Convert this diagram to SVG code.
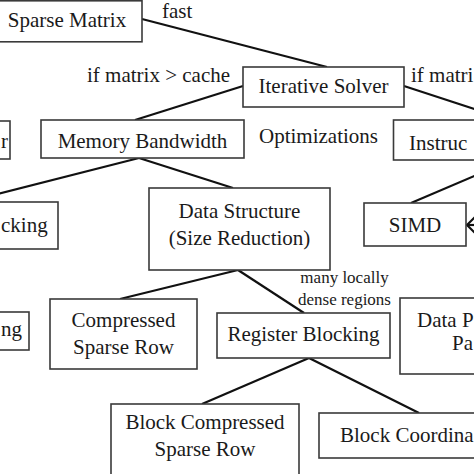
<svg xmlns="http://www.w3.org/2000/svg" width="474" height="474" viewBox="0 0 474 474">
<style>
.box{fill:#fff;stroke:#3a3a3a;stroke-width:1.6}
.t{font-family:"Liberation Serif","Times New Roman",serif;font-size:21px;fill:#1a1a1a}
.s{font-family:"Liberation Serif","Times New Roman",serif;font-size:17px;fill:#1a1a1a}
.m{text-anchor:middle}
.e{text-anchor:end}
.ln{stroke:#111;stroke-width:2.2;fill:none}
</style>
<rect width="474" height="474" fill="#fff"/>
<g id="connectors">
<line class="ln" x1="142" y1="19" x2="327" y2="67"/>
<line class="ln" x1="243" y1="86" x2="135" y2="120"/>
<line class="ln" x1="404" y1="86" x2="520" y2="124"/>
<line class="ln" x1="139" y1="158" x2="-10" y2="196"/>
<line class="ln" x1="139" y1="158" x2="233" y2="188"/>
<line class="ln" x1="411" y1="203" x2="500" y2="165"/>
<line class="ln" x1="238" y1="270" x2="120" y2="299"/>
<line class="ln" x1="238" y1="270" x2="304" y2="313"/>
<line class="ln" x1="309" y1="358" x2="202" y2="404"/>
<line class="ln" x1="309" y1="358" x2="419" y2="413"/>
<line class="ln" x1="467" y1="225" x2="480" y2="225"/>
<path class="ln" d="M475,217 L467,225 L475,233"/>
</g>
<g id="labels">
<text class="t" x="162" y="18">fast</text>
<text class="t" x="87" y="82">if matrix &gt; cache</text>
<text class="t" x="411" y="82">if matri</text>
<text class="t" x="259" y="143">Optimizations</text>
<text class="s m" x="344.5" y="283">many locally</text>
<text class="s m" x="344.5" y="305">dense regions</text>
</g>
<g id="sparse-matrix">
<rect class="box" x="-8" y="0.8" width="150" height="41"/>
<text class="t m" x="67" y="27">Sparse Matrix</text>
</g>
<g id="iterative-solver">
<rect class="box" x="243" y="67" width="161" height="40"/>
<text class="t m" x="323.5" y="93">Iterative Solver</text>
</g>
<g id="left-top-box">
<rect class="box" x="-40" y="121" width="50" height="38"/>
<text class="t" x="1" y="148">r</text>
</g>
<g id="memory-bandwidth">
<rect class="box" x="41" y="120" width="203" height="38"/>
<text class="t m" x="142.5" y="148">Memory Bandwidth</text>
</g>
<g id="instruction">
<rect class="box" x="393.5" y="120" width="130" height="40"/>
<text class="t" x="409" y="150">Instruc</text>
</g>
<g id="cache-blocking">
<rect class="box" x="-40" y="202" width="98" height="47"/>
<text class="t" x="1" y="232">cking</text>
</g>
<g id="data-structure">
<rect class="box" x="149" y="188" width="181" height="82"/>
<text class="t m" x="239.5" y="218">Data Structure</text>
<text class="t m" x="239.5" y="245">(Size Reduction)</text>
</g>
<g id="simd">
<rect class="box" x="364" y="203" width="102" height="43"/>
<text class="t m" x="415" y="232">SIMD</text>
</g>
<g id="left-mid-box">
<rect class="box" x="-40" y="312" width="69" height="38"/>
<text class="t" x="1" y="336">ng</text>
</g>
<g id="compressed-sparse-row">
<rect class="box" x="50" y="299" width="147" height="70"/>
<text class="t m" x="123.5" y="327">Compressed</text>
<text class="t m" x="123.5" y="354">Sparse Row</text>
</g>
<g id="register-blocking">
<rect class="box" x="217" y="313" width="173" height="45"/>
<text class="t m" x="303.5" y="341">Register Blocking</text>
</g>
<g id="data-p">
<rect class="box" x="400" y="298" width="120" height="76"/>
<text class="t" x="417" y="327">Data P</text>
<text class="t" x="452" y="350">Pa</text>
</g>
<g id="block-csr">
<rect class="box" x="111" y="404" width="188" height="90"/>
<text class="t m" x="205" y="429">Block Compressed</text>
<text class="t m" x="205" y="456">Sparse Row</text>
</g>
<g id="block-coordinate">
<rect class="box" x="319" y="413" width="200" height="45"/>
<text class="t" x="340" y="442">Block Coordina</text>
</g>
</svg>
